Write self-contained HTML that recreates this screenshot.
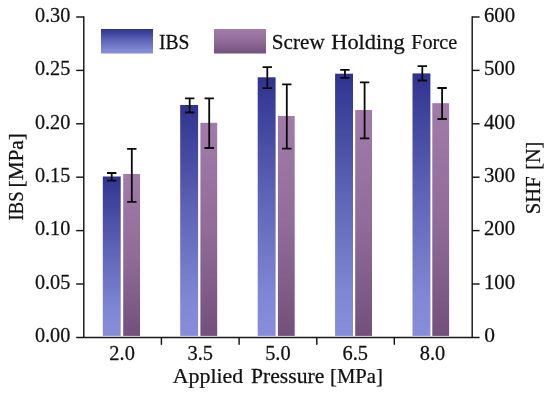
<!DOCTYPE html>
<html><head><meta charset="utf-8"><title>IBS and Screw Holding Force vs Applied Pressure</title>
<style>
html,body{margin:0;padding:0;background:#fff;}
svg{display:block;}
text{font-family:"Liberation Serif",serif;fill:#111;stroke:#111;stroke-width:0.25px;}
</style></head><body>
<svg width="550" height="394" viewBox="0 0 550 394">
<defs>
<linearGradient id="gb" x1="0" y1="0" x2="0" y2="1">
<stop offset="0" stop-color="#2f338f"/><stop offset="0.5" stop-color="#6268b9"/><stop offset="0.85" stop-color="#8087d4"/><stop offset="1" stop-color="#878ddb"/>
</linearGradient>
<linearGradient id="gp" x1="0" y1="0" x2="0" y2="1">
<stop offset="0" stop-color="#a17ba9"/><stop offset="0.5" stop-color="#916c99"/><stop offset="1" stop-color="#73507c"/>
</linearGradient>
</defs>
<rect width="550" height="394" fill="#fff"/>

<g fill="url(#gb)">
<rect x="102.8" y="176.5" width="17.9" height="159.4"/>
<rect x="180.2" y="105" width="17.9" height="230.9"/>
<rect x="257.7" y="77.3" width="17.9" height="258.6"/>
<rect x="335.1" y="73.7" width="17.9" height="262.2"/>
<rect x="412.5" y="73.4" width="17.9" height="262.5"/>
</g>
<g fill="url(#gp)">
<rect x="123.2" y="174" width="16.8" height="161.9"/>
<rect x="200.4" y="122.8" width="16.8" height="213.1"/>
<rect x="277.9" y="116" width="16.8" height="219.9"/>
<rect x="355.2" y="110" width="16.8" height="225.9"/>
<rect x="432.3" y="103.2" width="16.8" height="232.7"/>
</g>
<g stroke="#0a0a0a" stroke-width="1.8" fill="none">
<path d="M107.0 173H116.4M107.0 180.7H116.4M111.7 173V180.7"/>
<path d="M185.0 98.3H194.4M185.0 112.5H194.4M189.7 98.3V112.5"/>
<path d="M262.6 67.2H272.0M262.6 88.1H272.0M267.3 67.2V88.1"/>
<path d="M340.2 69.8H349.6M340.2 77.9H349.6M344.9 69.8V77.9"/>
<path d="M417.6 66.2H427.0M417.6 80.5H427.0M422.3 66.2V80.5"/>
<path d="M127.1 148.9H136.5M127.1 201.8H136.5M131.8 148.9V201.8"/>
<path d="M204.5 98.3H213.9M204.5 148H213.9M209.2 98.3V148"/>
<path d="M282.1 84.4H291.5M282.1 148.7H291.5M286.8 84.4V148.7"/>
<path d="M359.9 82.4H369.3M359.9 138.3H369.3M364.6 82.4V138.3"/>
<path d="M437.4 88H446.8M437.4 119H446.8M442.1 88V119"/>
</g>
<g stroke="#161616" stroke-width="1.45" fill="none">
<path d="M83.8 16.25V337.4"/>
<path d="M472.2 16.25V337.4"/>
<path d="M76.2 337.4H479.6"/>
<path d="M76.2 284.00H83.8"/>
<path d="M472.2 284.00H479.6"/>
<path d="M76.2 230.60H83.8"/>
<path d="M472.2 230.60H479.6"/>
<path d="M76.2 177.20H83.8"/>
<path d="M472.2 177.20H479.6"/>
<path d="M76.2 123.80H83.8"/>
<path d="M472.2 123.80H479.6"/>
<path d="M76.2 70.40H83.8"/>
<path d="M472.2 70.40H479.6"/>
<path d="M76.2 17.00H83.8"/>
<path d="M472.2 17.00H479.6"/>
<path d="M161.4 337.4V344.8"/>
<path d="M239.1 337.4V344.8"/>
<path d="M316.8 337.4V344.8"/>
<path d="M394.3 337.4V344.8"/>
</g>
<text transform="translate(34.89 342.2) scale(1.0120 1.0)" font-size="20">0.00</text>
<text transform="translate(484.14 342.2) scale(1.0714 1.0)" font-size="20">0</text>
<text transform="translate(34.89 288.8) scale(1.0120 1.0)" font-size="20">0.05</text>
<text transform="translate(483.93 288.8) scale(1.0400 1.0)" font-size="20">100</text>
<text transform="translate(34.89 235.4) scale(1.0120 1.0)" font-size="20">0.10</text>
<text transform="translate(483.93 235.4) scale(1.0400 1.0)" font-size="20">200</text>
<text transform="translate(34.89 182.0) scale(1.0120 1.0)" font-size="20">0.15</text>
<text transform="translate(483.93 182.0) scale(1.0400 1.0)" font-size="20">300</text>
<text transform="translate(34.89 128.6) scale(1.0120 1.0)" font-size="20">0.20</text>
<text transform="translate(483.93 128.6) scale(1.0400 1.0)" font-size="20">400</text>
<text transform="translate(34.89 75.2) scale(1.0120 1.0)" font-size="20">0.25</text>
<text transform="translate(483.93 75.2) scale(1.0400 1.0)" font-size="20">500</text>
<text transform="translate(34.89 21.8) scale(1.0120 1.0)" font-size="20">0.30</text>
<text transform="translate(483.93 21.8) scale(1.0400 1.0)" font-size="20">600</text>
<text transform="translate(109.35 360.2) scale(1.0200 1.0)" font-size="20">2.0</text>
<text transform="translate(187.50 360.2) scale(1.0200 1.0)" font-size="20">3.5</text>
<text transform="translate(265.15 360.2) scale(1.0200 1.0)" font-size="20">5.0</text>
<text transform="translate(342.45 360.2) scale(1.0200 1.0)" font-size="20">6.5</text>
<text transform="translate(419.80 360.2) scale(1.0200 1.0)" font-size="20">8.0</text>
<text transform="translate(172.78 383.4) scale(1.0938 1.0)" font-size="20">Applied</text>
<text transform="translate(250.95 383.4) scale(1.0827 1.0)" font-size="20">Pressure</text>
<text transform="translate(330.05 383.4) scale(1.0353 1.0)" font-size="20">[MPa]</text>
<text transform="translate(22.6 220.45) rotate(-90) scale(0.9315 1.0)" font-size="20">IBS</text>
<text transform="translate(22.6 187.39) rotate(-90) scale(1.0603 1.0)" font-size="20">[MPa]</text>
<text transform="translate(540.4 214.14) rotate(-90) scale(1.0317 1.0)" font-size="20">SHF</text>
<text transform="translate(540.4 169.81) rotate(-90) scale(1.0081 1.0)" font-size="20">[N]</text>
<rect x="101" y="29" width="52" height="24.5" fill="url(#gb)"/>
<rect x="214" y="29" width="52" height="24.5" fill="url(#gp)"/>
<text transform="translate(158.91 48.5) scale(0.9829 1.0)" font-size="20">IBS</text>
<text transform="translate(271.83 48.5) scale(1.0576 1.0)" font-size="20">Screw</text>
<text transform="translate(331.23 48.5) scale(1.1192 1.0)" font-size="20">Holding</text>
<text transform="translate(411.19 48.5) scale(1.0090 1.0)" font-size="20">Force</text>
</svg></body></html>
